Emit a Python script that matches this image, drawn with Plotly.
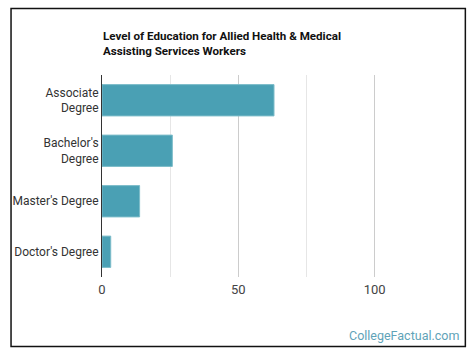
import plotly.graph_objects as go

categories = ["Associate<br>Degree", "Bachelor's<br>Degree", "Master's Degree", "Doctor's Degree"]
values = [63.1, 25.8, 13.8, 3.2]
tick_vals = [0, 50, 100]
tick_text = ["0", "50", "100"]
title_text = "<b>Level of Education for Allied Health & Medical<br>Assisting Services Workers</b>"
watermark = "CollegeFactual.com"

W, H = 476, 357
L, R, T, B = 100, 36, 75, 80
pw = W - L - R
ph = H - T - B

def px_x(px):
    return (px - L) / pw

def px_y(py):
    return (H - B - py) / ph

fig = go.Figure()
fig.add_trace(go.Bar(
    y=categories, x=values, orientation="h",
    marker=dict(color="#4aa0b4", line=dict(color="#7cbcc9", width=1)),
    width=0.62,
    hoverinfo="skip",
))

fig.update_layout(
    width=W, height=H,
    margin=dict(l=L, r=R, t=T, b=B),
    paper_bgcolor="white", plot_bgcolor="white",
    font=dict(family="Roboto, sans-serif", size=12, color="#333333"),
    showlegend=False,
    bargap=0.38,
    xaxis=dict(range=[0, 124], tickvals=tick_vals, ticktext=tick_text,
               showgrid=True, gridcolor="#cccccc", gridwidth=1,
               minor=dict(dtick=25, tick0=0, showgrid=True, gridcolor="#e6e6e6"),
               zeroline=False, showline=False, ticks="", ticklabelstandoff=3,
               tickfont=dict(size=13, color="#444444"), fixedrange=True),
    yaxis=dict(autorange="reversed", showgrid=False, zeroline=False,
               showline=True, linecolor="#333333", linewidth=1,
               ticks="", ticklabelstandoff=0,
               tickfont=dict(size=12, color="#333333"), fixedrange=True),
)

# Title
fig.add_annotation(text=title_text, xref="paper", yref="paper",
                   x=px_x(99), y=px_y(27), xanchor="left", yanchor="top",
                   align="left", showarrow=False,
                   font=dict(family="Roboto, sans-serif", size=11.6, color="#111111"))

# Outer border
fig.add_shape(type="rect", xref="paper", yref="paper",
              x0=px_x(8.5), x1=px_x(465.5), y0=px_y(346.5), y1=px_y(8.5),
              line=dict(color="#111111", width=1.5), fillcolor="rgba(0,0,0,0)",
              layer="above")

fig.add_annotation(text=watermark, xref="paper", yref="paper",
                   x=px_x(461), y=px_y(335), xanchor="right", yanchor="middle",
                   showarrow=False,
                   font=dict(family="Roboto, sans-serif", size=12.5, color="#5fa3b8"))

fig.write_html("out.html", config={"displayModeBar": False},
               post_script="document.body.style.margin='0';document.body.style.padding='0';")
